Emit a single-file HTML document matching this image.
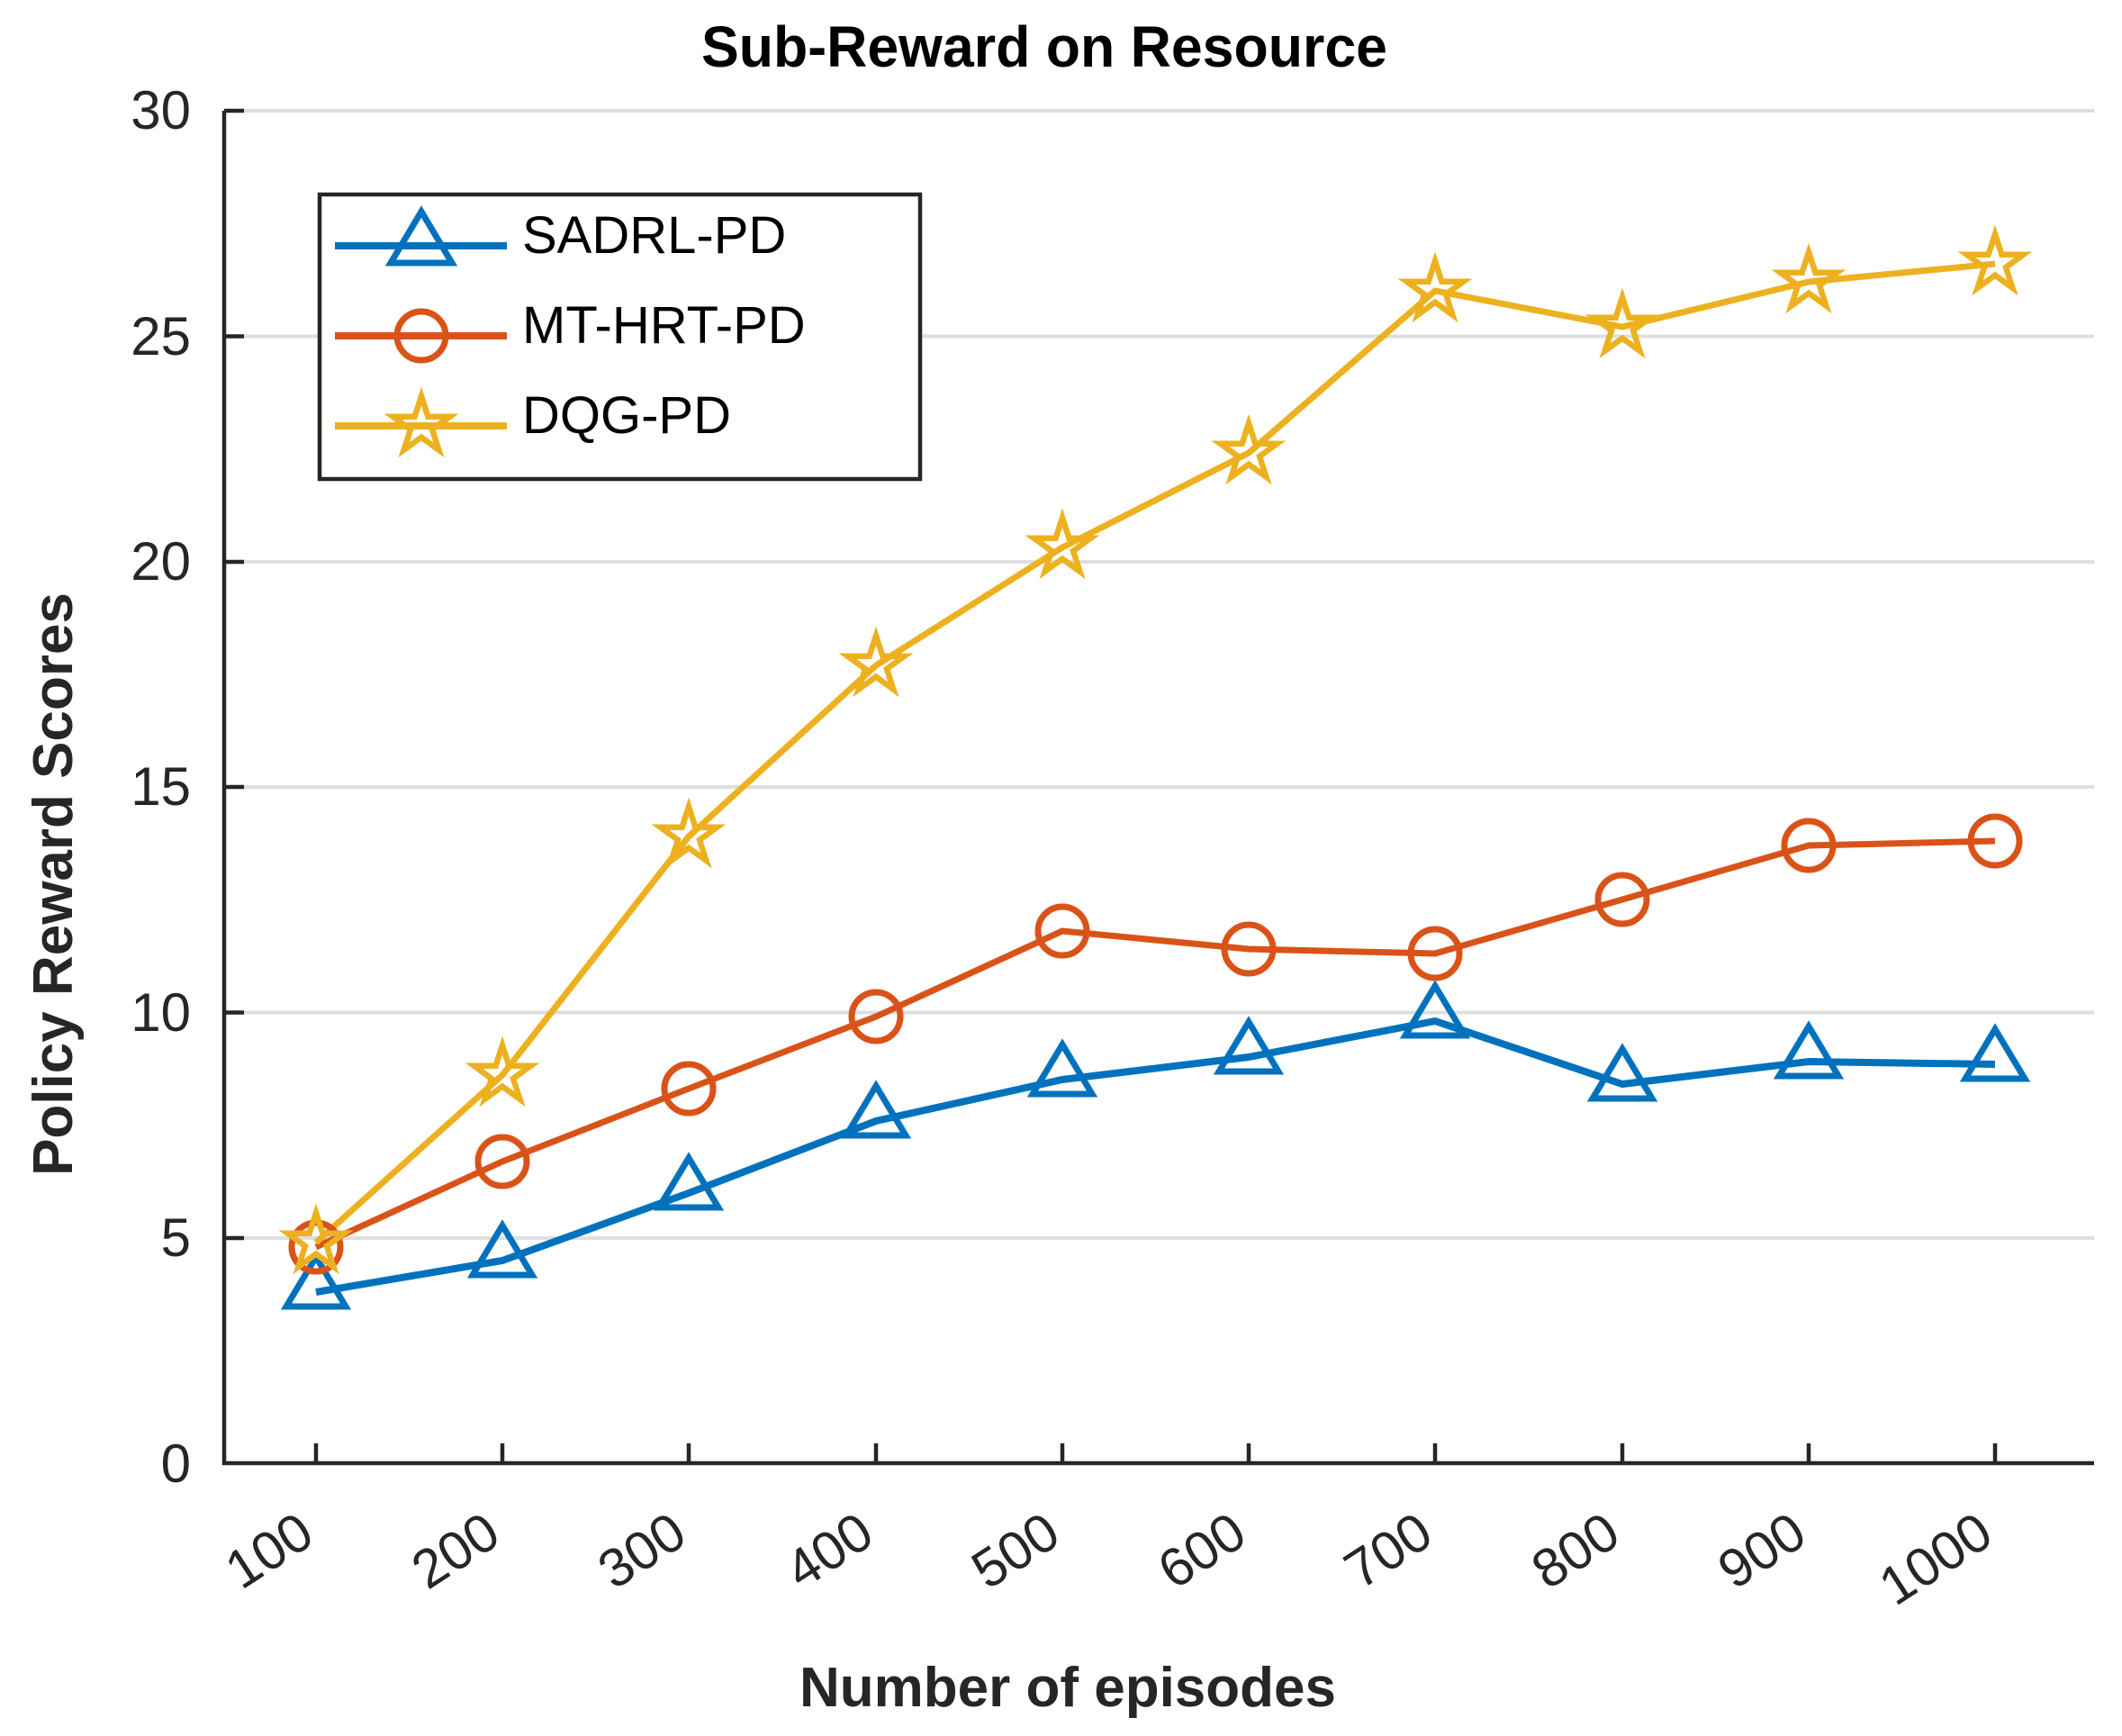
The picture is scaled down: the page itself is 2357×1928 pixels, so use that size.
<!DOCTYPE html>
<html><head><meta charset="utf-8"><style>html,body{margin:0;padding:0;background:#fff}svg{display:block}</style></head>
<body>
<svg xmlns="http://www.w3.org/2000/svg" width="2357" height="1928" viewBox="0 0 2357 1928" font-family="Liberation Sans, Arial, sans-serif">
<defs>
<g id="tri"><path d="M0,-39 L33,16 L-33,16 Z" fill="none" stroke="#0072BD" stroke-width="7"/></g>
<g id="cir"><ellipse cx="0" cy="0" rx="27" ry="27" fill="none" stroke="#D95319" stroke-width="7"/></g>
<g id="star"><path d="M0,-33 L7.4,-10.2 L31.4,-10.2 L12,3.9 L19.4,26.7 L0,12.6 L-19.4,26.7 L-12,3.9 L-31.4,-10.2 L-7.4,-10.2 Z" fill="none" stroke="#EDB120" stroke-width="6.5"/></g>
</defs>
<rect width="2357" height="1928" fill="#fff"/>
<text x="1160" y="74" font-size="64" font-weight="bold" text-anchor="middle" textLength="762" lengthAdjust="spacingAndGlyphs">Sub-Reward on Resource</text>
<g stroke="#dedede" stroke-width="4">
<line x1="251" y1="123" x2="2326" y2="123"/>
<line x1="251" y1="373.5" x2="2326" y2="373.5"/>
<line x1="251" y1="624" x2="2326" y2="624"/>
<line x1="251" y1="874" x2="2326" y2="874"/>
<line x1="251" y1="1124.5" x2="2326" y2="1124.5"/>
<line x1="251" y1="1375" x2="2326" y2="1375"/>
</g>
<g stroke="#262626" stroke-width="4.5" fill="none">
<path d="M249,123 V1625 H2326"/>
<path d="M249,123 h22 M249,373.5 h22 M249,624 h22 M249,874 h22 M249,1124.5 h22 M249,1375 h22"/>
<path d="M351,1625 v-22 M558,1625 v-22 M765,1625 v-22 M973,1625 v-22 M1180,1625 v-22 M1387,1625 v-22 M1594,1625 v-22 M1802,1625 v-22 M2009,1625 v-22 M2216,1625 v-22"/>
</g>
<g font-size="60" fill="#262626" text-anchor="end">
<text x="212" y="143">30</text>
<text x="212" y="394">25</text>
<text x="212" y="644">20</text>
<text x="212" y="894">15</text>
<text x="212" y="1145">10</text>
<text x="212" y="1395">5</text>
<text x="212" y="1646">0</text>
</g>
<g font-size="60" fill="#262626" text-anchor="end">
<text transform="translate(352,1712) rotate(-33)">100</text>
<text transform="translate(559,1712) rotate(-33)">200</text>
<text transform="translate(766,1712) rotate(-33)">300</text>
<text transform="translate(974,1712) rotate(-33)">400</text>
<text transform="translate(1181,1712) rotate(-33)">500</text>
<text transform="translate(1388,1712) rotate(-33)">600</text>
<text transform="translate(1595,1712) rotate(-33)">700</text>
<text transform="translate(1803,1712) rotate(-33)">800</text>
<text transform="translate(2010,1712) rotate(-33)">900</text>
<text transform="translate(2217,1712) rotate(-33)">1000</text>
</g>
<text x="1186" y="1895" font-size="62" font-weight="bold" fill="#262626" text-anchor="middle">Number of episodes</text>
<text transform="translate(80,982) rotate(-90)" font-size="62" font-weight="bold" fill="#262626" text-anchor="middle">Policy Reward Scores</text>
<polyline fill="none" stroke="#0072BD" stroke-width="8" points="351,1435 558,1400 765,1325 973,1245 1180,1199 1387,1174 1594,1134 1802,1204 2009,1179 2216,1182"/>
<polyline fill="none" stroke="#D95319" stroke-width="7" points="351,1385 558,1290 765,1209 973,1129 1180,1034 1387,1054 1594,1059 1802,999 2009,939 2216,934"/>
<polyline fill="none" stroke="#EDB120" stroke-width="7" points="351,1380 558,1194 765,929 973,739 1180,608 1387,503 1594,323 1802,363 2009,313 2216,293"/>
<g>
<use href="#tri" x="351" y="1435"/><use href="#tri" x="558" y="1400"/><use href="#tri" x="765" y="1325"/><use href="#tri" x="973" y="1245"/><use href="#tri" x="1180" y="1199"/><use href="#tri" x="1387" y="1174"/><use href="#tri" x="1594" y="1134"/><use href="#tri" x="1802" y="1204"/><use href="#tri" x="2009" y="1179"/><use href="#tri" x="2216" y="1182"/>
<use href="#cir" x="351" y="1385"/><use href="#cir" x="558" y="1290"/><use href="#cir" x="765" y="1209"/><use href="#cir" x="973" y="1129"/><use href="#cir" x="1180" y="1034"/><use href="#cir" x="1387" y="1054"/><use href="#cir" x="1594" y="1059"/><use href="#cir" x="1802" y="999"/><use href="#cir" x="2009" y="939"/><use href="#cir" x="2216" y="934"/>
<use href="#star" x="351" y="1380"/><use href="#star" x="558" y="1194"/><use href="#star" x="765" y="929"/><use href="#star" x="973" y="739"/><use href="#star" x="1180" y="608"/><use href="#star" x="1387" y="503"/><use href="#star" x="1594" y="323"/><use href="#star" x="1802" y="363"/><use href="#star" x="2009" y="313"/><use href="#star" x="2216" y="293"/>
</g>
<rect x="355" y="216" width="667" height="316" fill="#fff" stroke="#262626" stroke-width="4.5"/>
<line x1="372" y1="273" x2="563" y2="273" stroke="#0072BD" stroke-width="8"/>
<path d="M468,235 L502,292 L434,292 Z" fill="none" stroke="#0072BD" stroke-width="7"/>
<line x1="372" y1="373" x2="563" y2="373" stroke="#D95319" stroke-width="8"/>
<use href="#cir" x="468" y="373"/>
<line x1="372" y1="473" x2="563" y2="473" stroke="#EDB120" stroke-width="8"/>
<use href="#star" x="468" y="473"/>
<g font-size="58" fill="#000">
<text x="580" y="281">SADRL-PD</text>
<text x="580" y="381">MT-HRT-PD</text>
<text x="580" y="481">DQG-PD</text>
</g>
</svg>
</body></html>
